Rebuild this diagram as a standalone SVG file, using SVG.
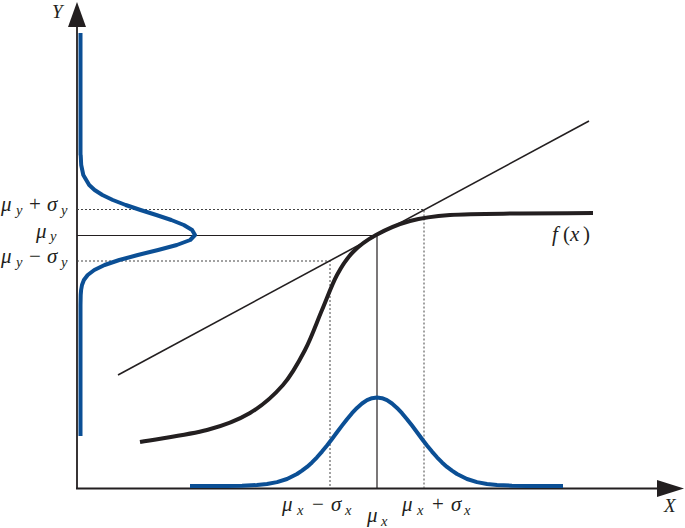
<svg xmlns="http://www.w3.org/2000/svg" width="685" height="528" viewBox="0 0 685 528">
<style>
.ax{stroke:#231f20;stroke-width:1.8;fill:none}
.ah{fill:#231f20}
.thin{stroke:#231f20;stroke-width:1.2;fill:none}
.dot{stroke:#444;stroke-width:1;stroke-dasharray:2 2;fill:none}
.tan{stroke:#231f20;stroke-width:1.6;fill:none}
.sig{stroke:#231f20;stroke-width:4;fill:none;stroke-linejoin:round}
.pdf{stroke:#0b4f95;stroke-width:4;fill:none;stroke-linejoin:round}
.m{font-family:"Liberation Serif","Times New Roman",serif;font-style:italic;font-size:21px;fill:#231f20}
.u{font-style:normal}
.s{font-size:14.5px}
.ax-l{font-size:19px}
</style>
<rect width="685" height="528" fill="#fff"/>
<g id="axes">
  <line class="ax" x1="77" y1="26" x2="77" y2="489"/>
  <line class="ax" x1="76" y1="488.5" x2="658" y2="488.5"/>
  <polygon class="ah" points="77,2 68,27 86,27"/>
  <polygon class="ah" points="657,480 684,488.5 657,497"/>
</g>
<g id="connectors">
  <polyline class="dot" points="77,209.5 424,209.5 424,488"/>
  <polyline class="dot" points="77,261 330,261 330,488"/>
  <polyline class="thin" points="77,235.5 377,235.5 377,488"/>
</g>
<g id="tangent">
  <line class="tan" x1="118" y1="375" x2="589" y2="121"/>
</g>
<g id="fx">
  <path class="sig" d="M140,442 C162.3,438 188.7,434.8 207,430 C225.3,425.2 237.3,420.5 250,413 C262.7,405.5 273.8,395.5 283,385 C292.2,374.5 298.5,362.5 305,350 C311.5,337.5 316.7,322.5 322,310 C327.3,297.5 331.8,284.7 337,275 C342.2,265.3 346.5,258.7 353,252 C359.5,245.3 366.5,240.2 376,235 C385.5,229.8 397.7,224.3 410,221 C422.3,217.7 431.7,216.3 450,215 C468.3,213.7 496.2,213.8 520,213.5 C543.8,213.2 568.7,213.2 593,213"/>
</g>
<g id="pdf-y">
  <polyline class="pdf" points="80.5,33 80.5,155 80.7,155 81.2,165 83.3,175 89.2,185 94.6,190 102.4,195 112.8,200 125.7,205 140.5,210 156.3,215 171.3,220 183.8,225 192.1,230 195,235 190.2,240 176.8,245 158.1,250 137.8,255 119.3,260 104.6,265 94.3,270 87.7,275 83.9,280 82,285 81.1,290 80.7,295 80.5,305 80.5,436"/>
</g>
<g id="pdf-x">
  <polyline class="pdf" points="190,486 227,485.9 242,485.7 257,485 267,484 277,482.1 287,479 297,474 302,470.7 307,466.9 312,462.4 317,457.3 322,451.6 327,445.5 332,439 337,432.3 342,425.6 347,419.2 352,413.2 357,407.9 362,403.5 367,400.2 372,398.2 377,397.5 382,398.2 387,400.2 392,403.5 397,407.9 402,413.2 407,419.2 412,425.6 417,432.3 422,439 427,445.5 432,451.6 437,457.3 442,462.4 447,466.9 452,470.7 457,474 467,479 477,482.1 487,484 497,485 512,485.7 527,485.9 563,486"/>
</g>
<g id="labels">
  <text class="m ax-l" x="52" y="18">Y</text>
  <text class="m ax-l" x="664" y="512">X</text>
  <text class="m" x="552 563 570 583" y="241">f<tspan class="u">(</tspan>x<tspan class="u">)</tspan></text>
  <text class="m" x="1" y="211">μ<tspan class="s" x="16" dy="3.5">y</tspan><tspan class="u" x="29" dy="-3.5">+</tspan><tspan x="47">σ</tspan><tspan class="s" x="61" dy="3.5">y</tspan></text>
  <text class="m" x="36" y="238">μ<tspan class="s" x="50" dy="2.5">y</tspan></text>
  <text class="m" x="1" y="263">μ<tspan class="s" x="16" dy="3.5">y</tspan><tspan class="u" x="29" dy="-3.5">−</tspan><tspan x="47">σ</tspan><tspan class="s" x="61" dy="3.5">y</tspan></text>
  <text class="m" x="282" y="511">μ<tspan class="s" x="297" dy="3.5">x</tspan><tspan class="u" x="312" dy="-3.5">−</tspan><tspan x="331">σ</tspan><tspan class="s" x="345" dy="3.5">x</tspan></text>
  <text class="m" x="367" y="522">μ<tspan class="s" x="381" dy="3.5">x</tspan></text>
  <text class="m" x="402" y="511">μ<tspan class="s" x="417" dy="3.5">x</tspan><tspan class="u" x="432" dy="-3.5">+</tspan><tspan x="451">σ</tspan><tspan class="s" x="464" dy="3.5">x</tspan></text>
</g>
</svg>
